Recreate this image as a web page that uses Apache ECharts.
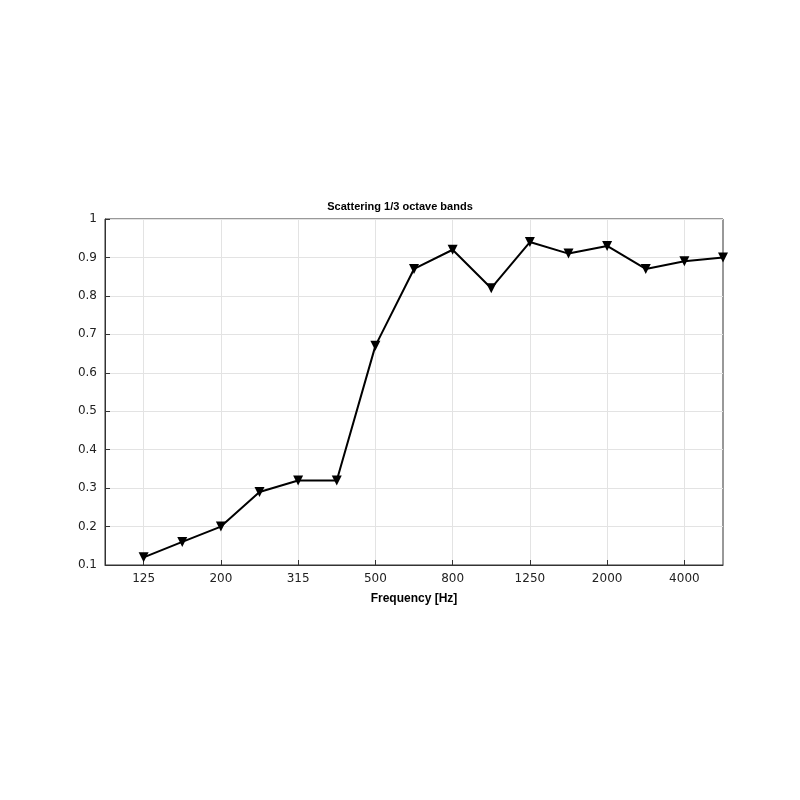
<!DOCTYPE html>
<html><head><meta charset="utf-8">
<script src="https://cdn.jsdelivr.net/npm/echarts@6/dist/echarts.min.js"></script>
<style>html,body{margin:0;background:#fff}#c{width:800px;height:800px}</style>
</head><body><div id="c"></div>
<script>
const categories = ['', '125','160','200','250','315','400','500','630','800','1000','1250','1600','2000','2500','4000','5000'];
const values = [null,0.12,0.16,0.20,0.29,0.32,0.32,0.67,0.87,0.92,0.82,0.94,0.91,0.93,0.87,0.89,0.90];
const chart = echarts.init(document.getElementById('c'));
const odd = (i) => i % 2 === 1;
chart.setOption({
  animation:false,
  title:{text:'Scattering 1/3 octave bands',left:'center',top:196,textStyle:{fontSize:11,fontWeight:'bold',fontFamily:'Liberation Sans',color:'#000'}},
  grid:{left:105,right:77,top:219,bottom:235,show:true,borderColor:'#333',borderWidth:1},
  xAxis:{type:'category',data:categories,boundaryGap:false,
    name:'Frequency [Hz]',nameLocation:'middle',nameGap:28,nameTextStyle:{fontSize:12,fontWeight:'bold',fontFamily:'Liberation Sans',color:'#000'},
    axisLine:{lineStyle:{color:'#333'}},
    axisTick:{interval:odd,inside:true,lineStyle:{color:'#333'}},
    axisLabel:{interval:odd,color:'#222',fontSize:12,fontFamily:'DejaVu Sans'},
    splitLine:{show:true,interval:odd,lineStyle:{color:'#e3e3e3'}}},
  yAxis:{type:'value',min:0.1,max:1,interval:0.1,
    axisLine:{show:true,lineStyle:{color:'#333'}},
    axisTick:{show:true,inside:true,lineStyle:{color:'#333'}},
    axisLabel:{color:'#222',fontSize:12,fontFamily:'DejaVu Sans',formatter:v=>+v.toFixed(1)+''},
    splitLine:{lineStyle:{color:'#e3e3e3'}}},
  series:[{type:'line',data:values,symbol:'triangle',symbolRotate:180,symbolSize:10,
    lineStyle:{color:'#000',width:2},itemStyle:{color:'#000'}}]
});
</script></body></html>
